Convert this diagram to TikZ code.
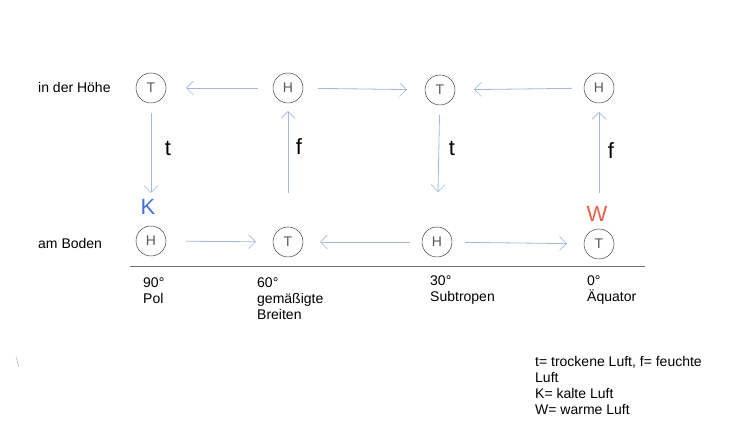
\documentclass[tikz,border=0pt]{standalone}
\usepackage{fontspec}
\setmainfont{Liberation Sans}
\usetikzlibrary{arrows.meta}
\definecolor{arrowblue}{RGB}{160,185,220}
\definecolor{kblue}{RGB}{70,110,225}
\definecolor{wred}{RGB}{235,95,70}
\begin{document}
\begin{tikzpicture}[x=1pt,y=-1pt,
  cell/.style={circle,draw=black!75,line width=0.5pt,minimum size=30pt,inner sep=0pt,font=\fontsize{14}{14}\selectfont\color{black!65}},
  flow/.style={draw=arrowblue,line width=0.8pt,-{Straight Barb[length=7pt,width=14pt,line width=0.6pt]}},
  lbl/.style={font=\fontsize{14}{16}\selectfont,anchor=west,align=left,inner sep=0pt},
  hand/.style={font=\fontsize{22}{22}\selectfont}]
\useasboundingbox (0,0) rectangle (732,427);
% top row
\node[cell] (t1) at (151,88) {T};
\node[cell] (t2) at (288,88) {H};
\node[cell] (t3) at (440,90) {T};
\node[cell] (t4) at (599,88) {H};
% bottom row
\node[cell] (b1) at (151,241) {H};
\node[cell] (b2) at (288,242) {T};
\node[cell] (b3) at (437,242) {H};
\node[cell] (b4) at (599,244) {T};
% horizontal arrows top
\draw[flow,shorten <=30pt,shorten >=35pt] (t2.center) -- (t1.center);
\draw[flow,shorten <=30pt,shorten >=33pt] (t2.center) -- (t3.center);
\draw[flow,shorten <=27pt,shorten >=34pt] (t4.center) -- (t3.center);
% horizontal arrows bottom
\draw[flow,shorten <=35pt,shorten >=32pt] (b1.center) -- (b2.center);
\draw[flow,shorten <=27pt,shorten >=32pt] (b3.center) -- (b2.center);
\draw[flow,shorten <=28pt,shorten >=32pt] (b3.center) -- (b4.center);
% vertical arrows
\draw[flow,shorten <=25pt,shorten >=48pt] (t1.center) -- (b1.center);
\draw[flow,shorten <=49pt,shorten >=23pt] (b2.center) -- (t2.center);
\draw[flow,shorten <=25pt,shorten >=50pt] (t3.center) -- (b3.center);
\draw[flow,shorten <=51pt,shorten >=24pt] (b4.center) -- (t4.center);
% arrow labels
\node[hand] (lt1) at (168,148) {t};
\node[hand] (lf1) at (299,147) {f};
\node[hand] (lt2) at (452,148) {t};
\node[hand] (lf2) at (611,151) {f};
% K and W
\node[hand,text=kblue] (K) at (148,207) {K};
\node[hand,text=wred] (W) at (597,214) {W};
% ground line
\coordinate (g1) at (130,267);
\coordinate (g2) at (645,267);
\draw[black!55,line width=1pt] (g1) -- (g2);
% row labels
\node[lbl] (hoehe) at (38,88) {in der Höhe};
\node[lbl] (boden) at (38,243) {am Boden};
% latitude labels
\node[lbl,anchor=north west] (l90) at (143,278) {90°\\Pol};
\node[lbl,anchor=north west] (l60) at (257,278) {60°\\gemäßigte\\Breiten};
\node[lbl,anchor=north west] (l30) at (430,276) {30°\\Subtropen};
\node[lbl,anchor=north west] (l0) at (587,276) {0°\\Äquator};
% legend
\node[lbl,anchor=north west] (leg) at (535,356) {t= trockene Luft, f= feuchte\\Luft\\K= kalte Luft\\W= warme Luft};
% stray mark
\coordinate (s1) at (16,357);
\coordinate (s2) at (19,367);
\draw[black!30,line width=0.5pt] (s1) -- (s2);
\end{tikzpicture}
\end{document}
